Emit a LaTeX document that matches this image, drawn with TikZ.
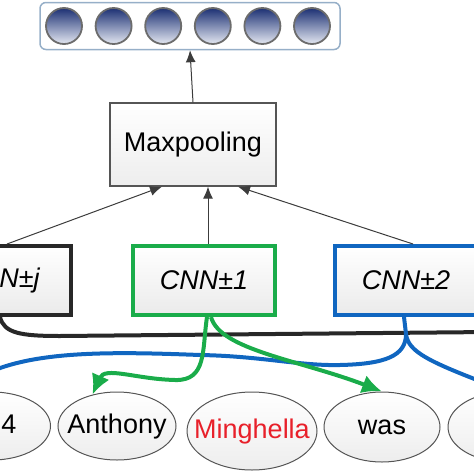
\documentclass[tikz,border=0pt]{standalone}
\usepackage{fontspec}
\setmainfont{Liberation Sans}
\usetikzlibrary{shapes.geometric,arrows.meta}
\definecolor{gline}{RGB}{26,172,74}
\definecolor{bline}{RGB}{16,102,192}
\definecolor{kline}{RGB}{40,40,40}
\definecolor{arrowgray}{RGB}{60,60,60}
\definecolor{boxedge}{RGB}{85,85,85}
\definecolor{topedge}{RGB}{150,175,200}
\definecolor{navy}{RGB}{28,48,115}
\definecolor{ballbot}{RGB}{228,232,242}
\definecolor{wred}{RGB}{232,32,42}
\tikzset{
  every node/.style={font=\fontsize{27}{32}\selectfont},
  topbox/.style={draw=topedge, line width=1.5pt, rounded corners=6pt, fill=white, minimum width=300pt, minimum height=47pt, inner sep=0pt},
  ball/.style={circle, draw=gray!85!black, line width=1.8pt, top color=navy, bottom color=ballbot, minimum size=36pt, inner sep=0pt},
  mpbox/.style={draw=boxedge, line width=1.3pt, top color=white, bottom color=black!7, minimum width=166pt, minimum height=83pt, inner sep=0pt},
  cnnbox/.style={line width=4pt, top color=white, bottom color=black!8, minimum width=142pt, minimum height=69pt, inner sep=0pt, font=\fontsize{27}{32}\selectfont\itshape},
  word/.style={ellipse, draw=boxedge, line width=1pt, top color=white, bottom color=black!7, inner sep=0pt, minimum width=117pt, minimum height=68pt, text height=19pt, text depth=5pt},
  up/.style={draw=arrowgray, line width=1pt, -{Latex[length=12pt,width=10pt]}},
  thickline/.style={line width=4pt},
  greentip/.style={-{Latex[length=20pt 0 0,width=19pt 0 0]}},
}
\begin{document}
\begin{tikzpicture}[x=1pt,y=-1pt]
\useasboundingbox (0,0) rectangle (474,474);
\clip (0,0) rectangle (474,474);
% output layer
\node[topbox] (out) at (190,26) {};
\foreach \i in {0,...,5} {
  \node[ball] (c\i) at ({64+49.6*\i},26) {};
}
% maxpooling
\node[mpbox] (mp) at (193,144.5) {Maxpooling};
% CNN boxes
\node[cnnbox, draw=kline] (cnnj) at (0,280.5) {CNN±\textit{j}};
\node[cnnbox, draw=gline] (cnn1) at (204,280.5) {CNN±1};
\node[cnnbox, draw=bline] (cnn2) at (406,280.5) {CNN±2};
% words
\node[word] (w4) at (-8,426) {\makebox[0pt]{\hspace*{34pt}4}};
\node[word, minimum width=118pt] (anth) at (117,426) {\makebox[0pt]{Anthony}};
\node[word, minimum width=130pt, minimum height=78pt, text=wred] (ming) at (252,431) {\makebox[0pt]{Minghella}};
\node[word, minimum width=116pt, minimum height=70pt] (was) at (382,427) {\makebox[0pt]{was}};
\node[word, minimum width=116pt, minimum height=70pt] (nxt) at (506,427) {};
% arrows
\draw[up] (mp.north) -- (out.south);
\draw[up] ([xshift=7pt]cnnj.north) -- ([xshift=-31pt]mp.south);
\draw[up] ([xshift=4pt]cnn1.north) -- ([xshift=15pt]mp.south);
\draw[up] ([xshift=7pt]cnn2.north) -- ([xshift=45pt]mp.south);
% connectors
\coordinate (kend) at (490,332);
\coordinate (bleft) at (-10,372);
\coordinate (bright) at (490,385);
\coordinate (bsplit) at (406,334);
\draw[thickline, kline] (cnnj.south) .. controls (4,333) and (20,336) .. (60,336) -- (kend);
\draw[thickline, bline] ([xshift=-2pt]cnn2.south) -- (bsplit)
   .. controls (406,356) and (385,364) .. (340,365)
   .. controls (300,366) and (260,356) .. (200,355)
   .. controls (120,352) and (40,350) .. (bleft);
\draw[thickline, bline] (bsplit) .. controls (408,352) and (430,362) .. (bright);
\draw[thickline, gline, greentip] ([xshift=3pt]cnn1.south)
   .. controls (202,350) and (207,381) .. (175,380)
   .. controls (135,379) and (105,366) .. (anth.128);
\draw[thickline, gline, greentip] ([xshift=7pt]cnn1.south)
   .. controls (220,350) and (300,360) .. (was.north);
\end{tikzpicture}
\end{document}
